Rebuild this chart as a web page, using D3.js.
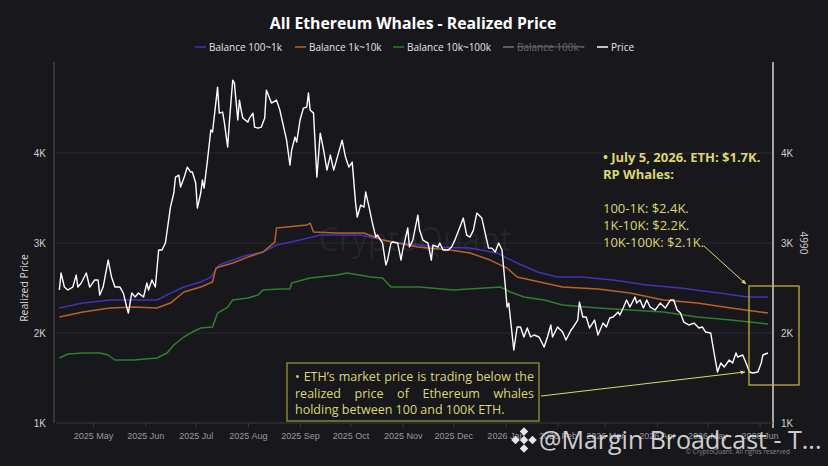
<!DOCTYPE html>
<html>
<head>
<meta charset="utf-8">
<script src="https://cdn.jsdelivr.net/npm/d3@7"></script>
<style>
    html, body { margin: 0; padding: 0; background: #17171c; }
    svg { display: block; font-family: 'Open Sans', 'Noto Sans', sans-serif; }
</style>
</head>
<body>
<div id="chart"></div>
<script>
///// DATOS //////
// precio ETH
let priceData = [
    ['2025-04-11',2478],['2025-04-12',2667],['2025-04-14',2511],['2025-04-16',2478],['2025-04-19',2511],
    ['2025-04-21',2644],['2025-04-22',2511],['2025-04-24',2556],['2025-04-27',2667],['2025-04-29',2511],
    ['2025-05-02',2589],['2025-05-04',2589],['2025-05-05',2422],['2025-05-07',2511],['2025-05-10',2811],
    ['2025-05-12',2622],['2025-05-14',2511],['2025-05-17',2511],['2025-05-19',2444],['2025-05-21',2289],
    ['2025-05-22',2222],['2025-05-24',2444],['2025-05-26',2400],['2025-05-28',2444],['2025-05-31',2400],
    ['2025-06-02',2556],['2025-06-03',2478],['2025-06-05',2589],['2025-06-07',2511],['2025-06-09',2922],
    ['2025-06-11',2922],['2025-06-13',3000],['2025-06-16',3400],['2025-06-18',3556],['2025-06-19',3733],
    ['2025-06-21',3756],['2025-06-22',3622],['2025-06-24',3722],['2025-06-26',3844],['2025-06-28',3789],
    ['2025-06-29',3789],['2025-07-01',3667],['2025-07-02',3389],['2025-07-04',3556],['2025-07-05',3700],
    ['2025-07-06',3611],['2025-07-08',3922],['2025-07-10',4256],['2025-07-11',4233],['2025-07-14',4733],
    ['2025-07-15',4444],['2025-07-17',4456],['2025-07-18',4344],['2025-07-20',4067],['2025-07-21',4344],
    ['2025-07-23',4811],['2025-07-24',4778],['2025-07-26',4367],['2025-07-27',4589],['2025-07-28',4478],
    ['2025-07-29',4389],['2025-08-01',4344],['2025-08-02',4389],['2025-08-04',4444],['2025-08-05',4289],
    ['2025-08-07',4278],['2025-08-09',4289],['2025-08-11',4389],['2025-08-12',4700],['2025-08-15',4556],
    ['2025-08-18',4589],['2025-08-20',4478],['2025-08-22',4311],['2025-08-24',4144],['2025-08-26',3867],
    ['2025-08-27',4033],['2025-08-29',4178],['2025-08-30',4122],['2025-09-01',4367],['2025-09-03',4500],
    ['2025-09-05',4511],['2025-09-06',4667],['2025-09-07',4478],['2025-09-09',4444],['2025-09-11',3733],
    ['2025-09-13',4222],['2025-09-15',4033],['2025-09-17',3811],['2025-09-19',3978],['2025-09-21',3811],
    ['2025-09-23',3944],['2025-09-26',4144],['2025-09-28',3956],['2025-09-30',3844],['2025-10-02',3900],
    ['2025-10-04',3444],['2025-10-05',3289],['2025-10-07',3422],['2025-10-09',3400],['2025-10-10',3567],
    ['2025-10-12',3400],['2025-10-14',3222],['2025-10-16',3067],['2025-10-17',3089],['2025-10-20',3000],
    ['2025-10-22',2756],['2025-10-23',2811],['2025-10-25',3000],['2025-10-26',3011],['2025-10-29',3000],
    ['2025-10-31',2811],['2025-11-01',2922],['2025-11-04',3167],['2025-11-05',2956],['2025-11-07',3033],
    ['2025-11-10',3311],['2025-11-11',3144],['2025-11-13',3033],['2025-11-16',3000],['2025-11-18',2811],
    ['2025-11-19',2978],['2025-11-22',2956],['2025-11-23',3000],['2025-11-25',2922],['2025-11-28',2922],
    ['2025-11-30',2956],['2025-12-02',3033],['2025-12-05',3178],['2025-12-07',3278],['2025-12-09',3089],
    ['2025-12-11',3067],['2025-12-13',3144],['2025-12-15',3333],['2025-12-18',3278],['2025-12-20',3111],
    ['2025-12-22',2944],['2025-12-24',2944],['2025-12-26',2900],['2025-12-28',3000],['2025-12-30',2922],
    ['2026-01-01',2511],['2026-01-02',2289],['2026-01-03',2333],['2026-01-06',1811],['2026-01-08',2067],
    ['2026-01-10',2067],['2026-01-12',1956],['2026-01-14',2056],['2026-01-16',1956],['2026-01-18',1978],
    ['2026-01-21',1956],['2026-01-24',1844],['2026-01-26',1956],['2026-01-28',2089],['2026-01-29',1956],
    ['2026-02-01',2067],['2026-02-04',2011],['2026-02-06',1922],['2026-02-09',2033],['2026-02-10',2056],
    ['2026-02-13',2144],['2026-02-14',2344],['2026-02-16',2178],['2026-02-18',2178],['2026-02-20',2056],
    ['2026-02-23',2144],['2026-02-25',1978],['2026-02-28',2111],['2026-03-02',2067],['2026-03-04',2167],
    ['2026-03-06',2178],['2026-03-09',2233],['2026-03-10',2200],['2026-03-12',2278],['2026-03-14',2367],
    ['2026-03-16',2289],['2026-03-19',2400],['2026-03-20',2333],['2026-03-22',2367],['2026-03-24',2278],
    ['2026-03-26',2367],['2026-03-28',2289],['2026-03-31',2256],['2026-04-03',2333],['2026-04-06',2278],
    ['2026-04-09',2367],['2026-04-11',2367],['2026-04-13',2256],['2026-04-15',2222],['2026-04-17',2122],
    ['2026-04-20',2089],['2026-04-23',2111],['2026-04-26',2056],['2026-04-28',2067],['2026-04-30',2011],
    ['2026-05-03',2000],['2026-05-05',1778],['2026-05-07',1567],['2026-05-09',1667],['2026-05-11',1622],
    ['2026-05-14',1700],['2026-05-16',1667],['2026-05-18',1778],['2026-05-19',1733],['2026-05-22',1756],
    ['2026-05-24',1667],['2026-05-26',1567],['2026-05-28',1556],['2026-05-31',1567],['2026-06-02',1667],
    ['2026-06-03',1756],['2026-06-06',1778]
];

// realized price ballenas 100~1k
let rp100Data = [
    ['2025-04-11',2278],['2025-04-25',2333],['2025-05-11',2367],['2025-06-08',2367],['2025-06-16',2444],
    ['2025-06-24',2511],['2025-07-04',2567],['2025-07-10',2622],['2025-07-15',2756],['2025-07-23',2811],
    ['2025-08-01',2867],['2025-08-10',2900],['2025-08-18',2978],['2025-09-01',3033],['2025-09-13',3089],
    ['2025-09-25',3089],['2025-10-07',3089],['2025-10-26',3011],['2025-11-22',2956],['2025-12-11',2944],
    ['2025-12-27',2889],['2026-01-08',2778],['2026-01-20',2678],['2026-02-01',2622],['2026-02-15',2622],
    ['2026-03-06',2589],['2026-03-26',2533],['2026-04-15',2500],['2026-05-08',2444],['2026-05-25',2400],
    ['2026-06-06',2400]
];

// realized price ballenas 1k~10k
let rp1kData = [
    ['2025-04-11',2178],['2025-04-25',2233],['2025-05-11',2278],['2025-05-25',2289],['2025-06-08',2278],
    ['2025-06-16',2333],['2025-06-24',2456],['2025-07-04',2511],['2025-07-11',2567],['2025-07-13',2722],
    ['2025-07-23',2778],['2025-08-01',2844],['2025-08-10',2900],['2025-08-17',3011],['2025-08-18',3167],
    ['2025-09-05',3200],['2025-09-07',3222],['2025-09-09',3122],['2025-09-23',3111],['2025-10-09',3111],
    ['2025-10-20',3033],['2025-11-10',2956],['2025-11-29',2922],['2025-12-11',2889],['2025-12-23',2811],
    ['2026-01-02',2722],['2026-01-08',2622],['2026-01-16',2589],['2026-02-04',2511],['2026-02-25',2489],
    ['2026-03-16',2444],['2026-04-05',2367],['2026-04-25',2333],['2026-05-15',2278],['2026-06-06',2222]
];

// realized price ballenas 10k~100k
let rp10kData = [
    ['2025-04-11',1722],['2025-04-16',1767],['2025-04-25',1778],['2025-05-05',1778],['2025-05-10',1756],
    ['2025-05-14',1700],['2025-05-25',1700],['2025-06-08',1722],['2025-06-14',1778],['2025-06-18',1867],
    ['2025-06-24',1956],['2025-06-29',2011],['2025-07-04',2056],['2025-07-11',2067],['2025-07-14',2222],
    ['2025-07-20',2289],['2025-07-23',2367],['2025-08-01',2389],['2025-08-07',2422],['2025-08-10',2478],
    ['2025-08-20',2489],['2025-08-26',2489],['2025-08-27',2556],['2025-09-07',2611],['2025-09-23',2644],
    ['2025-09-29',2667],['2025-10-13',2622],['2025-10-20',2611],['2025-10-25',2511],['2025-11-11',2511],
    ['2025-12-01',2478],['2025-12-29',2511],['2026-01-04',2456],['2026-01-12',2400],['2026-01-24',2367],
    ['2026-02-04',2311],['2026-02-25',2278],['2026-03-16',2256],['2026-04-05',2233],['2026-04-25',2178],
    ['2026-05-15',2144],['2026-06-06',2100]
];

let yTicks = [1000, 2000, 3000, 4000];
let yMax = 4990;

let series = [
    {name: 'Balance 100~1k', data: rp100Data, color: '#4034b8'},
    {name: 'Balance 1k~10k', data: rp1kData, color: '#b8622a'},
    {name: 'Balance 10k~100k', data: rp10kData, color: '#2f7f2f'},
    {name: 'Balance 100k~', data: null, color: '#777', hidden: true},
    {name: 'Price', data: priceData, color: '#ffffff'}
];

let noteLines1 = ['• July 5, 2026. ETH: $1.7K.', 'RP Whales:', '', '100-1K: $2.4K.', '1K-10K: $2.2K.', '10K-100K: $2.1K.'];
let noteLines2 = ['• ETH\u2019s market price is trading below the', 'realized price of Ethereum whales', 'holding between 100 and 100K ETH.'];

///// GRÁFICO //////
let W = 828, H = 466;
let margin = {top: 64, right: 55, bottom: 43, left: 56};
let parseDate = d3.utcParse('%Y-%m-%d');

let svg = d3.select('#chart').append('svg')
    .attr('width', W)
    .attr('height', H);

svg.append('rect').attr('width', W).attr('height', H).attr('fill', '#17171c');

let x = d3.scaleUtc()
    .domain([parseDate('2025-04-09'), parseDate('2026-06-09')])
    .range([margin.left, W - margin.right]);

let y = d3.scaleLinear()
    .domain([1000, yMax])
    .range([H - margin.bottom, margin.top]);

//Marca de agua
svg.append('text')
    .attr('x', 415).attr('y', 251)
    .attr('text-anchor', 'middle')
    .attr('font-size', 32)
    .attr('fill', '#ffffff')
    .attr('fill-opacity', 0.06)
    .text('CryptoQuant');

//Eje Y izquierdo
let yAxis = function(g) {
    g.call(d3.axisLeft(y).tickValues(yTicks).tickFormat(d => (d / 1000) + 'K').tickSize(0).tickPadding(8));
    g.select('.domain').attr('stroke', '#555').attr('d', 'M0,' + (margin.top - 2) + 'V' + (H - margin.bottom));
    g.selectAll('.tick text').attr('fill', '#cfcfcf').attr('font-size', 10);
};
svg.append('g')
    .attr('transform', 'translate(' + (margin.left - 2) + ',0)')
    .call(yAxis);

//Rejilla
svg.append('g').selectAll('line')
    .data(yTicks.slice(1))
    .join('line')
    .attr('x1', margin.left).attr('x2', W - margin.right)
    .attr('y1', d => y(d)).attr('y2', d => y(d))
    .attr('stroke', '#2a2a31').attr('stroke-width', 1);

svg.append('text')
    .attr('transform', 'translate(28,' + y(2500) + ') rotate(-90)')
    .attr('text-anchor', 'middle')
    .attr('fill', '#d6d6d6')
    .attr('font-size', 10.5)
    .text('Realized Price');

//Eje Y derecho
let yAxisR = function(g) {
    g.call(d3.axisRight(y).tickValues(yTicks).tickFormat(d => (d / 1000) + 'K').tickSize(0).tickPadding(8));
    g.select('.domain').attr('stroke', '#f0f0f0').attr('stroke-width', 1.3).attr('d', 'M0,' + (margin.top - 2) + 'V' + (H - margin.bottom + 5));
    g.selectAll('.tick text').attr('fill', '#cfcfcf').attr('font-size', 10);
};
svg.append('g')
    .attr('transform', 'translate(' + (W - margin.right) + ',0)')
    .call(yAxisR);

svg.append('text')
    .attr('transform', 'translate(800,' + y(3000) + ') rotate(90)')
    .attr('text-anchor', 'middle')
    .attr('fill', '#cfcfcf')
    .attr('font-size', 10)
    .text(yMax);

//Eje X
let xAxis = function(g) {
    g.call(d3.axisBottom(x)
        .ticks(d3.utcMonth.every(1))
        .tickFormat(d3.utcFormat('%Y %b'))
        .tickSize(4).tickPadding(6));
    g.select('.domain').attr('stroke', '#3a3a42').attr('d', 'M' + margin.left + ',0H' + (W - margin.right));
    g.selectAll('.tick line').attr('stroke', '#3a3a42');
    g.selectAll('.tick text').attr('fill', '#9a9a9a').attr('font-size', 9);
};
svg.append('g')
    .attr('transform', 'translate(0,' + (H - margin.bottom) + ')')
    .call(xAxis);

//Líneas
let line = d3.line()
    .x(d => x(parseDate(d[0])))
    .y(d => y(d[1]));

svg.append('g').selectAll('path')
    .data(series.filter(s => s.data))
    .join('path')
    .attr('fill', 'none')
    .attr('stroke', d => d.color)
    .attr('stroke-width', d => d.name == 'Price' ? 1.4 : 1.5)
    .attr('stroke-linejoin', 'round')
    .attr('d', d => line(d.data));

//Título y leyenda
svg.append('text')
    .attr('x', 413).attr('y', 29)
    .attr('text-anchor', 'middle')
    .attr('fill', '#ffffff')
    .attr('font-size', 15.8)
    .attr('font-weight', 700)
    .text('All Ethereum Whales - Realized Price');

let legendX = [195, 295, 393, 503, 597];
let legend = svg.append('g').selectAll('g')
    .data(series)
    .join('g')
    .attr('transform', (d, i) => 'translate(' + legendX[i] + ',47)');
legend.append('line')
    .attr('x1', 0).attr('x2', 11)
    .attr('stroke', d => d.hidden ? '#777' : d.color)
    .attr('stroke-width', 1.5);
legend.append('text')
    .attr('x', 14).attr('y', 3.5)
    .attr('fill', d => d.hidden ? '#6a6a6a' : '#e6e6e6')
    .attr('font-size', 10)
    .attr('text-decoration', d => d.hidden ? 'line-through' : null)
    .text(d => d.name);

//Anotaciones
let noteColor = '#dcd774';
let defs = svg.append('defs');
defs.append('marker')
    .attr('id', 'arrow')
    .attr('viewBox', '0 0 10 10')
    .attr('refX', 9).attr('refY', 5)
    .attr('markerWidth', 5).attr('markerHeight', 5)
    .attr('orient', 'auto')
    .append('path')
    .attr('d', 'M0,1L10,5L0,9Z')
    .attr('fill', noteColor);

svg.append('g').selectAll('text')
    .data(noteLines1)
    .join('text')
    .attr('x', 603)
    .attr('y', (d, i) => 162 + i * 17)
    .attr('fill', noteColor)
    .attr('font-size', 13)
    .attr('font-weight', (d, i) => i < 2 ? 700 : 400)
    .text(d => d);

svg.append('line')
    .attr('x1', 704).attr('y1', 246)
    .attr('x2', 746).attr('y2', 284)
    .attr('stroke', noteColor).attr('stroke-width', 1)
    .attr('marker-end', 'url(#arrow)');

svg.append('rect')
    .attr('x', 749).attr('y', 286)
    .attr('width', 50).attr('height', 99)
    .attr('fill', 'none')
    .attr('stroke', '#c8bf3c').attr('stroke-width', 1.2);

svg.append('rect')
    .attr('x', 287).attr('y', 363)
    .attr('width', 252).attr('height', 58)
    .attr('fill', '#17171c')
    .attr('stroke', '#a39c38').attr('stroke-width', 1.2);

let note2 = svg.append('g');
noteLines2.forEach(function(txt, i) {
    let t = note2.append('text')
        .attr('y', 381 + i * 16.5)
        .attr('fill', noteColor)
        .attr('font-size', 12.5);
    if (i < noteLines2.length - 1) {
        //texto justificado: repartir palabras a lo ancho
        let words = txt.split(' ');
        let spans = words.map(w => t.append('tspan').text(w));
        let widths = spans.map(s => s.node().getComputedTextLength());
        let total = d3.sum(widths);
        let gap = (239 - total) / (words.length - 1);
        let pos = 295;
        spans.forEach(function(s, j) {
            s.attr('x', pos);
            pos += widths[j] + gap;
        });
    } else {
        t.attr('x', 295).text(txt);
    }
});

svg.append('line')
    .attr('x1', 541).attr('y1', 396)
    .attr('x2', 745).attr('y2', 372)
    .attr('stroke', noteColor).attr('stroke-width', 1)
    .attr('marker-end', 'url(#arrow)');

//Marca Binance
let logo = svg.append('g').attr('transform', 'translate(524,440)').attr('fill', '#e6e6e6');
[[0,-8.5],[-8.5,0],[8.5,0],[0,8.5],[0,0]].forEach(function(p) {
    logo.append('rect')
        .attr('x', p[0] - 3).attr('y', p[1] - 3)
        .attr('width', 6).attr('height', 6)
        .attr('transform', 'rotate(45,' + p[0] + ',' + p[1] + ')');
});
svg.append('text')
    .attr('x', 539).attr('y', 449)
    .attr('fill', '#e8e8e8')
    .attr('fill-opacity', 0.9)
    .attr('font-size', 25)
    .text('@Margin Broadcast - T...');

svg.append('text')
    .attr('x', 790).attr('y', 454)
    .attr('text-anchor', 'end')
    .attr('fill', '#888')
    .attr('font-size', 6.5)
    .text('© CryptoQuant. All rights reserved');
</script>
</body>
</html>
